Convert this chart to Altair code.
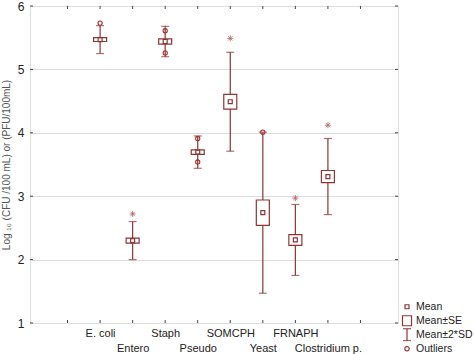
import altair as alt
import pandas as pd

# ---- data ----
categories = ["E. coli", "Entero", "Staph", "Pseudo", "SOMCPH", "Yeast", "FRNAPH", "Clostridium p."]
positions = [2, 3, 4, 5, 6, 7, 8, 9]
means = [5.47, 2.30, 5.44, 3.695, 4.49, 2.74, 2.31, 3.31]
se = [0.03, 0.04, 0.04, 0.035, 0.115, 0.20, 0.085, 0.095]
sd2 = [0.22, 0.30, 0.24, 0.255, 0.78, 1.27, 0.56, 0.60]

outlier_pos = [2, 4, 4, 5, 5, 7]
outlier_val = [5.73, 5.61, 5.26, 3.91, 3.54, 4.01]

extreme_pos = [3, 6, 8, 9]
extreme_val = [2.72, 5.49, 2.97, 4.12]

x_ticks = [1, 2, 3, 4, 5, 6, 7, 8, 9, 10]
y_ticks = [1, 2, 3, 4, 5, 6]

legend_items = ["Mean", "Mean±SE", "Mean±2*SD", "Outliers"]
legend_paths = [
    "M-0.33,-0.33H0.33V0.33H-0.33Z",
    "M-0.75,-0.83H0.75V0.83H-0.75Z",
    "M-0.67,-1H0.67M0,-1V1M-0.67,1H0.67",
    "M0.37,0A0.37,0.37 0 1,1 -0.37,0A0.37,0.37 0 1,1 0.37,0Z",
]

W, H = 368, 317
RED = "#8c3535"
FONT = "Liberation Sans"

df = pd.DataFrame({
    "pos": positions, "cat": categories, "mean": means,
    "se_lo": [m - s for m, s in zip(means, se)], "se_hi": [m + s for m, s in zip(means, se)],
    "sd_lo": [m - s for m, s in zip(means, sd2)], "sd_hi": [m + s for m, s in zip(means, sd2)],
    "leg": ["Mean"] * len(means),
})
out_df = pd.DataFrame({"pos": outlier_pos, "val": outlier_val})
ext_df = pd.DataFrame({"pos": extreme_pos, "val": extreme_val})
xt_df = pd.DataFrame({"t": x_ticks})
yt_df = pd.DataFrame({"t": y_ticks})

names_js = "[" + ",".join("'" + c + "'" for c in categories) + "]"
label_expr = (
    f"datum.value >= 2 && datum.value <= 9 ? "
    f"(datum.value % 2 == 1 ? ['', {names_js}[datum.value - 2]] : {names_js}[datum.value - 2]) : ''"
)

xscale = alt.Scale(domain=[0, 11], nice=False, zero=False)
yscale = alt.Scale(domain=[1, 6], nice=False, zero=False)

x_enc = alt.X("pos:Q", scale=xscale, axis=alt.Axis(
    values=x_ticks, labelExpr=label_expr, ticks=False, domain=False, grid=False, title=None,
    labelFontSize=11, labelColor="#222", labelPadding=4, labelLineHeight=15, labelFont=FONT,
    labelBaseline="top", labelOverlap=False, labelFlush=False))
y_axis = alt.Axis(values=y_ticks, format="d", ticks=False, domain=False, grid=True, gridColor="#dcdcdc",
                  labelFontSize=12, labelColor="#222", labelPadding=6, labelFont=FONT,
                  title="Log ₁₀ (CFU /100 mL) or (PFU/100mL)", titleFontSize=10,
                  titleFontWeight="normal", titleColor="#555", titleFont=FONT, titlePadding=6)

base = alt.Chart(df)

whisker = base.mark_rule(color=RED, strokeWidth=1.2).encode(
    x=x_enc, y=alt.Y("sd_lo:Q", scale=yscale, axis=y_axis), y2="sd_hi:Q")
cap_lo = base.mark_tick(color=RED, orient="horizontal", size=8, thickness=1.2).encode(
    x="pos:Q", y="sd_lo:Q")
cap_hi = base.mark_tick(color=RED, orient="horizontal", size=8, thickness=1.2).encode(
    x="pos:Q", y="sd_hi:Q")
box = base.mark_bar(size=13, fill="white", stroke=RED, strokeWidth=1.2).encode(
    x="pos:Q", y="se_lo:Q", y2="se_hi:Q")
mean_pt = base.mark_point(filled=False, color=RED, strokeWidth=1.2, size=144, opacity=1).encode(
    x="pos:Q", y="mean:Q",
    shape=alt.Shape("leg:N", scale=alt.Scale(domain=legend_items, range=legend_paths),
                    legend=alt.Legend(title=None, orient="none", legendX=370, legendY=294,
                                      symbolSize=144, symbolStrokeWidth=1.2, symbolStrokeColor=RED,
                                      symbolFillColor="white", labelFontSize=10.5, labelColor="#222",
                                      labelFont=FONT, labelOffset=2, padding=0, rowPadding=0,
                                      clipHeight=13.5)))
outliers = alt.Chart(out_df).mark_point(
    shape="M0.3,0A0.3,0.3 0 1,1 -0.3,0A0.3,0.3 0 1,1 0.3,0Z", size=196,
    filled=False, color="#a03030", strokeWidth=1.1, opacity=1).encode(x="pos:Q", y="val:Q")
extremes = alt.Chart(ext_df).mark_point(
    shape="M-1,0H1M0,-1V1M-0.7,-0.7L0.7,0.7M-0.7,0.7L0.7,-0.7", size=36,
    filled=False, color="#b06060", strokeWidth=0.8, opacity=1).encode(x="pos:Q", y="val:Q")

tick_bot = alt.Chart(xt_df).mark_rule(color="#444").encode(
    x="t:Q", y=alt.value(H), y2=alt.value(H - 3))
tick_top = alt.Chart(xt_df).mark_rule(color="#444").encode(
    x="t:Q", y=alt.value(0), y2=alt.value(3))
tick_left = alt.Chart(yt_df).mark_rule(color="#444").encode(
    y="t:Q", x=alt.value(0), x2=alt.value(3))
tick_right = alt.Chart(yt_df).mark_rule(color="#444").encode(
    y="t:Q", x=alt.value(W), x2=alt.value(W - 3))

chart = alt.layer(
    whisker, cap_lo, cap_hi, box, mean_pt, outliers, extremes,
    tick_bot, tick_top, tick_left, tick_right,
).properties(
    width=W, height=H,
    autosize=alt.AutoSizeParams(type="none"),
    padding={"left": 30, "top": 6, "right": 474 - 30 - W, "bottom": 354 - 6 - H},
).configure_view(
    stroke="#555", strokeWidth=1.5
).configure(background="white")

chart.save("out.html", embed_options={"renderer": "svg", "actions": False})
